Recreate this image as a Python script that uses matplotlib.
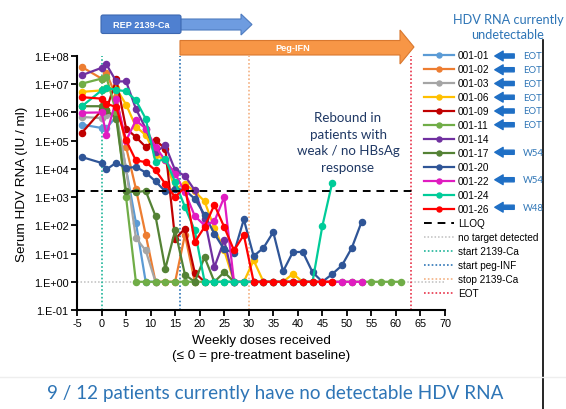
import numpy as np
import matplotlib
matplotlib.use('Agg')
import matplotlib.pyplot as plt
from matplotlib.lines import Line2D
from matplotlib.patches import Polygon, FancyBboxPatch
from matplotlib.transforms import IdentityTransform

# ---------------- data (log10 IU/ml; 0 = target not detected) ----------------
weeks = [-4, 0, 1, 3, 5, 7, 9, 11, 13, 15, 17, 19, 21, 23, 25, 27, 29, 31, 33,
         35, 37, 39, 41, 43, 45, 47, 49, 51, 53, 55, 57, 59, 61]

patients = ['001-01', '001-02', '001-03', '001-06', '001-09', '001-11',
            '001-14', '001-17', '001-20', '001-22', '001-24', '001-26']
colors = ['#5B9BD5', '#ED7D31', '#A5A5A5', '#FFC000', '#C00000', '#70AD47',
          '#7030A0', '#548235', '#2F5597', '#E01CC0', '#00CC99', '#FF0000']

p01 = [5.57, 5.45, 5.45, 5.85, 4.0, 2.1, 0, 0]
p02 = [7.61, 7.2, 7.4, 6.55, 4.78, 3.3, 1.67, 0, 0, 0, 1.67, 0]
p03 = [5.84, 5.8, 5.9, 5.95, 4.0, 1.55, 1.11, 0]
p06 = [6.73, 6.78, 6.87, 6.85, 6.28, 5.5, 5.2, 4.5, 4.3, 3.3, 3.47, 3.2, 2.85,
       1.9, 1.11, 0, 0, 0.76, 0, 0, 0, 0.28, 0]
p09 = [5.28, 6.07, 6.1, 7.17, 5.43, 5.13, 4.78, 5.01, 4.72, 1.52, 1.88, 0.32, 0]
p11 = [7.02, 7.2, 7.25, 6.0, 3.0, 0, 0, 0, 0, 0, 0, 0, 0, 0, 0, 0, 0, 0, 0,
       0, 0, 0, 0, 0, 0, 0, 0, 0, 0, 0, 0, 0, 0]
p14 = [7.32, 7.58, 7.7, 7.1, 7.1, 6.13, 5.43, 4.6, 4.83, 3.95, 3.75, 3.24,
       2.23, 0.52, 1.47, 0]
p17 = [6.22, 6.22, 6.1, 5.78, 3.2, 3.18, 3.22, 2.33, 0.46, 1.82, 0.25, 0, 0.87,
       0, 0.34, 0]
p20 = [4.42, 4.21, 3.98, 4.22, 4.03, 4.07, 3.87, 3.56, 3.2, 3.3, 3.25, 2.94,
       2.38, 1.7, 1.15, 1.03, 2.21, 0.91, 1.2, 1.76, 0.37, 1.05, 1.06, 0.34, 0,
       0.27, 0.58, 1.2, 2.12]
p22 = [5.99, 6.0, 5.21, 6.47, 5.0, 5.72, 5.43, 4.78, 4.3, 3.83, 3.18, 2.33,
       2.0, 2.14, 3.0, 0, 0, 0, 0, 0, 0, 0, 0, 0, 0, 0, 0, 0, 0]
p24 = [6.22, 6.78, 6.87, 6.8, 6.75, 6.43, 5.78, 4.24, 4.36, 3.53, 2.65, 1.82,
       0, 0, 0, 0, 0, 0, 0, 0, 0, 0, 0, 0, 1.97, 3.5]
p26 = [6.54, 6.49, 6.31, 6.19, 5.01, 4.3, 4.24, 3.95, 3.47, 3.0, 3.36, 1.41,
       1.94, 2.73, 1.94, 1.11, 1.66, 0, 0, 0, 0, 0, 0, 0, 0, 0]
series = [p01, p02, p03, p06, p09, p11, p14, p17, p20, p22, p24, p26]

status_rows = [0, 1, 2, 3, 4, 5, 7, 9, 11]
status_text = ['EOT', 'EOT', 'EOT', 'EOT', 'EOT', 'EOT', 'W54', 'W54', 'W48']

lloq = 1700
lloq_end = 64
no_target = 1
start_2139 = 0
start_peg = 16
stop_2139 = 30
eot = 63

x_ticks = [-5, 0, 5, 10, 15, 20, 25, 30, 35, 40, 45, 50, 55, 60, 65, 70]
y_ticks = [1e-1, 1e0, 1e1, 1e2, 1e3, 1e4, 1e5, 1e6, 1e7, 1e8]
y_labels = ['1.E-01', '1.E+00', '1.E+01', '1.E+02', '1.E+03', '1.E+04',
            '1.E+05', '1.E+06', '1.E+07', '1.E+08']

# ---------------- figure ----------------
W, H = 566, 410
fig = plt.figure(figsize=(W / 100, H / 100), dpi=100)
fig.patch.set_facecolor('white')
ax = fig.add_axes([77 / W, 1 - 311 / H, (445 - 77) / W, (311 - 57) / H])

AR = 'Liberation Sans'
CAL = 'Lato'

vline_styles = [
    (start_2139, '#1FB59A', 'start 2139-Ca'),
    (start_peg, '#2E75B6', 'start peg-INF'),
    (stop_2139, '#F4B183', 'stop 2139-Ca'),
    (eot, '#E8334A', 'EOT'),
]
dot = (0, (1, 1.3))
ax.axhline(no_target, color='#BFBFBF', lw=1.1, ls=dot, zorder=1)
for xv, c, _ in vline_styles:
    ax.axvline(xv, color=c, lw=1.2, ls=dot, zorder=1)

handles = []
for name, vals, col in zip(patients, series, colors):
    yv = 10.0 ** np.array(vals, dtype=float)
    ln, = ax.plot(weeks[:len(vals)], yv, '-o', color=col, lw=1.6, ms=4.4,
                  label=name, zorder=3)
    handles.append(ln)

ax.hlines(lloq, -5, lloq_end, colors='black', lw=1.4, linestyles=(0, (4, 3)),
          zorder=5)

ax.set_yscale('log')
ax.set_xlim(-5, 70)
ax.set_ylim(1e-1, 1e8)
ax.set_xticks(x_ticks)
ax.set_xticklabels([str(v) for v in x_ticks], fontsize=7.8, family=AR)
ax.yaxis.set_major_locator(matplotlib.ticker.FixedLocator(y_ticks))
ax.yaxis.set_minor_locator(matplotlib.ticker.NullLocator())
ax.set_yticklabels(y_labels, fontsize=7.8, family=AR)
for s in ['top', 'right']:
    ax.spines[s].set_visible(False)
for s in ['left', 'bottom']:
    ax.spines[s].set_linewidth(1.5)
ax.tick_params(direction='out', length=4, width=1.3, pad=2)
ax.set_xlabel('Weekly doses received\n(\u2264 0 = pre-treatment baseline)',
              fontsize=9.7, family=AR, labelpad=4, linespacing=1.3)
ax.set_ylabel('Serum HDV RNA (IU / ml)', fontsize=9.7, family=AR, labelpad=4)

# legend
extra = [Line2D([], [], color='black', lw=1.4, ls=(0, (4, 3)), label='LLOQ'),
         Line2D([], [], color='#BFBFBF', lw=1.1, ls=dot,
                label='no target detected')]
for _, c, lab in vline_styles:
    extra.append(Line2D([], [], color=c, lw=1.2, ls=dot, label=lab))
leg_handles = []
for h in handles:
    leg_handles.append(Line2D([], [], color=h.get_color(), lw=1.6, marker='o',
                              ms=3.6, label=h.get_label()))
leg_handles += extra
fig.legend(handles=leg_handles, loc='upper left',
           bbox_to_anchor=(424 / W, 1 - 51 / H), frameon=False,
           prop={'family': AR, 'size': 7.2}, handlelength=3.0,
           handletextpad=0.4, labelspacing=0.40, borderpad=0,
           borderaxespad=0)

ID = IdentityTransform()
# status arrows
row0, dy = 57, 13.75
for r, t in zip(status_rows, status_text):
    yy = H - (row0 + dy * r)
    fig.add_artist(matplotlib.patches.FancyArrowPatch(
        (517, yy), (492, yy), transform=ID,
        arrowstyle='simple,head_length=0.6,head_width=0.7,tail_width=0.3',
        mutation_scale=10, color='#1F6FC5'))
    fig.text(523, yy, t, transform=ID, ha='left', va='center', fontsize=6.8,
             family=CAL, color='#2E75B6')

fig.text(508, H - 20, 'HDV RNA currently', transform=ID, ha='center',
         va='center', fontsize=9.2, family=CAL, color='#2E75B6')
fig.text(508, H - 35, 'undetectable', transform=ID, ha='center',
         va='center', fontsize=9.2, family=CAL, color='#2E75B6')
fig.add_artist(Line2D([543, 543], [H - 41, 0], transform=ID, color='black',
                      lw=1.2))

# top arrows
rep = Polygon([(178, H - 20), (241, H - 20), (241, H - 15), (252, H - 25.5),
               (241, H - 36), (241, H - 31), (178, H - 31)], closed=True,
              transform=ID, facecolor='#6E9CE0', edgecolor='#4F7CC0', lw=0.8)
fig.add_artist(rep)
box = FancyBboxPatch((101, H - 34.5), 80, 18.5, boxstyle='round,pad=0,rounding_size=2',
                     transform=ID, facecolor='#4F80D0', edgecolor='#3D68B0', lw=0.8)
fig.add_artist(box)
fig.text(141, H - 25.5, 'REP 2139-Ca', transform=ID, ha='center', va='center',
         fontsize=6.6, family=AR, weight='bold', color='white')
peg = Polygon([(180, H - 41.5), (400, H - 41.5), (400, H - 31), (414, H - 48),
               (400, H - 65), (400, H - 56), (180, H - 56)], closed=True,
              transform=ID, facecolor='#F79646', edgecolor='#D9782F', lw=0.8,
              zorder=6)
fig.add_artist(peg)
fig.text(293, H - 48.5, 'Peg-IFN', transform=ID, ha='center', va='center',
         fontsize=6.6, family=AR, weight='bold', color='white', zorder=7)

# rebound note
for i, line in enumerate(['Rebound in', 'patients with', 'weak / no HBsAg',
                          'response']):
    fig.text(348, H - (118 + 16.7 * i), line, transform=ID, ha='center',
             va='center', fontsize=9.6, family=CAL, color='#1F3864')

# bottom message
fig.add_artist(Line2D([0, 566], [H - 378, H - 378], transform=ID,
                      color='#EEEEEE', lw=1))
fig.text(275, H - 394, '9 / 12 patients currently have no detectable HDV RNA',
         transform=ID, ha='center', va='center', fontsize=13.6, family=CAL,
         color='#2E75B6')

fig.savefig('out.png', dpi=100)
